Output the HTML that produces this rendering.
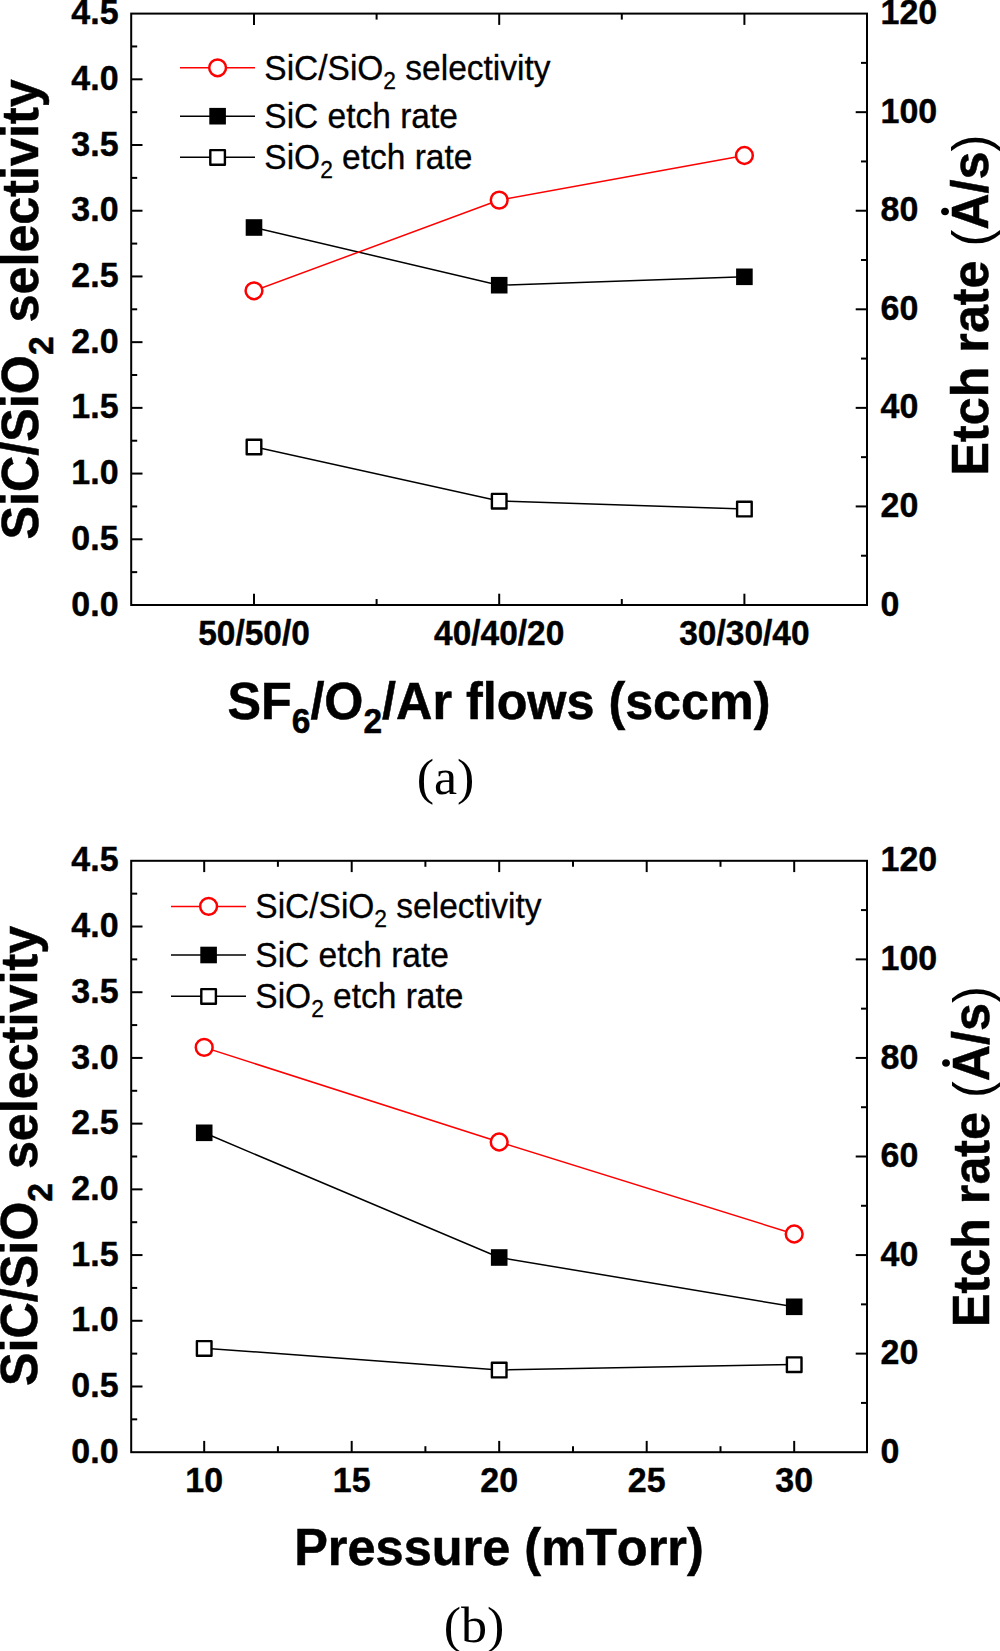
<!DOCTYPE html>
<html><head><meta charset="utf-8"><title>Figure</title>
<style>
html,body{margin:0;padding:0;background:#fff}
svg{display:block}
text{font-family:"Liberation Sans",sans-serif;fill:#000;font-kerning:none}
.tl{font-size:34px;font-weight:bold;stroke:#000;stroke-width:0.4px}
.lg{font-size:33.5px;stroke:#000;stroke-width:0.3px}
.sub{font-size:22.8px}
.al{font-size:50.3px;font-weight:bold;stroke:#000;stroke-width:0.5px}
.asub{font-size:33.5px}
.rg{font-weight:normal;stroke:none}
.dot{font-family:"Liberation Serif",serif;stroke:none}
.cap{font-family:"Liberation Serif",serif;font-size:52px}
</style></head><body>
<svg width="1000" height="1651" viewBox="0 0 1000 1651">
<rect width="1000" height="1651" fill="#fff"/>
<g stroke="#000" stroke-width="2" fill="none">
<rect x="131.2" y="13.6" width="735.8" height="591.4"/>
<rect x="131.2" y="860.8" width="735.8" height="591.4"/>
<line x1="131.2" y1="572.14" x2="137.2" y2="572.14"/>
<line x1="131.2" y1="539.29" x2="142.5" y2="539.29"/>
<line x1="131.2" y1="506.43" x2="137.2" y2="506.43"/>
<line x1="131.2" y1="473.58" x2="142.5" y2="473.58"/>
<line x1="131.2" y1="440.72" x2="137.2" y2="440.72"/>
<line x1="131.2" y1="407.87" x2="142.5" y2="407.87"/>
<line x1="131.2" y1="375.01" x2="137.2" y2="375.01"/>
<line x1="131.2" y1="342.16" x2="142.5" y2="342.16"/>
<line x1="131.2" y1="309.30" x2="137.2" y2="309.30"/>
<line x1="131.2" y1="276.44" x2="142.5" y2="276.44"/>
<line x1="131.2" y1="243.59" x2="137.2" y2="243.59"/>
<line x1="131.2" y1="210.73" x2="142.5" y2="210.73"/>
<line x1="131.2" y1="177.88" x2="137.2" y2="177.88"/>
<line x1="131.2" y1="145.02" x2="142.5" y2="145.02"/>
<line x1="131.2" y1="112.17" x2="137.2" y2="112.17"/>
<line x1="131.2" y1="79.31" x2="142.5" y2="79.31"/>
<line x1="131.2" y1="46.46" x2="137.2" y2="46.46"/>
<line x1="867.0" y1="555.72" x2="861.0" y2="555.72"/>
<line x1="867.0" y1="506.43" x2="855.7" y2="506.43"/>
<line x1="867.0" y1="457.15" x2="861.0" y2="457.15"/>
<line x1="867.0" y1="407.87" x2="855.7" y2="407.87"/>
<line x1="867.0" y1="358.58" x2="861.0" y2="358.58"/>
<line x1="867.0" y1="309.30" x2="855.7" y2="309.30"/>
<line x1="867.0" y1="260.02" x2="861.0" y2="260.02"/>
<line x1="867.0" y1="210.73" x2="855.7" y2="210.73"/>
<line x1="867.0" y1="161.45" x2="861.0" y2="161.45"/>
<line x1="867.0" y1="112.17" x2="855.7" y2="112.17"/>
<line x1="867.0" y1="62.88" x2="861.0" y2="62.88"/>
<line x1="131.2" y1="1419.34" x2="137.2" y2="1419.34"/>
<line x1="131.2" y1="1386.49" x2="142.5" y2="1386.49"/>
<line x1="131.2" y1="1353.63" x2="137.2" y2="1353.63"/>
<line x1="131.2" y1="1320.78" x2="142.5" y2="1320.78"/>
<line x1="131.2" y1="1287.92" x2="137.2" y2="1287.92"/>
<line x1="131.2" y1="1255.07" x2="142.5" y2="1255.07"/>
<line x1="131.2" y1="1222.21" x2="137.2" y2="1222.21"/>
<line x1="131.2" y1="1189.36" x2="142.5" y2="1189.36"/>
<line x1="131.2" y1="1156.50" x2="137.2" y2="1156.50"/>
<line x1="131.2" y1="1123.64" x2="142.5" y2="1123.64"/>
<line x1="131.2" y1="1090.79" x2="137.2" y2="1090.79"/>
<line x1="131.2" y1="1057.93" x2="142.5" y2="1057.93"/>
<line x1="131.2" y1="1025.08" x2="137.2" y2="1025.08"/>
<line x1="131.2" y1="992.22" x2="142.5" y2="992.22"/>
<line x1="131.2" y1="959.37" x2="137.2" y2="959.37"/>
<line x1="131.2" y1="926.51" x2="142.5" y2="926.51"/>
<line x1="131.2" y1="893.66" x2="137.2" y2="893.66"/>
<line x1="867.0" y1="1402.92" x2="861.0" y2="1402.92"/>
<line x1="867.0" y1="1353.63" x2="855.7" y2="1353.63"/>
<line x1="867.0" y1="1304.35" x2="861.0" y2="1304.35"/>
<line x1="867.0" y1="1255.07" x2="855.7" y2="1255.07"/>
<line x1="867.0" y1="1205.78" x2="861.0" y2="1205.78"/>
<line x1="867.0" y1="1156.50" x2="855.7" y2="1156.50"/>
<line x1="867.0" y1="1107.22" x2="861.0" y2="1107.22"/>
<line x1="867.0" y1="1057.93" x2="855.7" y2="1057.93"/>
<line x1="867.0" y1="1008.65" x2="861.0" y2="1008.65"/>
<line x1="867.0" y1="959.37" x2="855.7" y2="959.37"/>
<line x1="867.0" y1="910.08" x2="861.0" y2="910.08"/>
<line x1="254.0" y1="605.0" x2="254.0" y2="593.7"/>
<line x1="254.0" y1="13.6" x2="254.0" y2="24.9"/>
<line x1="499.2" y1="605.0" x2="499.2" y2="593.7"/>
<line x1="499.2" y1="13.6" x2="499.2" y2="24.9"/>
<line x1="744.4" y1="605.0" x2="744.4" y2="593.7"/>
<line x1="744.4" y1="13.6" x2="744.4" y2="24.9"/>
<line x1="376.6" y1="605.0" x2="376.6" y2="599.0"/>
<line x1="376.6" y1="13.6" x2="376.6" y2="19.6"/>
<line x1="621.8" y1="605.0" x2="621.8" y2="599.0"/>
<line x1="621.8" y1="13.6" x2="621.8" y2="19.6"/>
<line x1="204.2" y1="1452.2" x2="204.2" y2="1440.9"/>
<line x1="204.2" y1="860.8" x2="204.2" y2="872.0999999999999"/>
<line x1="277.9" y1="1452.2" x2="277.9" y2="1446.2"/>
<line x1="277.9" y1="860.8" x2="277.9" y2="866.8"/>
<line x1="351.7" y1="1452.2" x2="351.7" y2="1440.9"/>
<line x1="351.7" y1="860.8" x2="351.7" y2="872.0999999999999"/>
<line x1="425.4" y1="1452.2" x2="425.4" y2="1446.2"/>
<line x1="425.4" y1="860.8" x2="425.4" y2="866.8"/>
<line x1="499.2" y1="1452.2" x2="499.2" y2="1440.9"/>
<line x1="499.2" y1="860.8" x2="499.2" y2="872.0999999999999"/>
<line x1="573.0" y1="1452.2" x2="573.0" y2="1446.2"/>
<line x1="573.0" y1="860.8" x2="573.0" y2="866.8"/>
<line x1="646.7" y1="1452.2" x2="646.7" y2="1440.9"/>
<line x1="646.7" y1="860.8" x2="646.7" y2="872.0999999999999"/>
<line x1="720.5" y1="1452.2" x2="720.5" y2="1446.2"/>
<line x1="720.5" y1="860.8" x2="720.5" y2="866.8"/>
<line x1="794.2" y1="1452.2" x2="794.2" y2="1440.9"/>
<line x1="794.2" y1="860.8" x2="794.2" y2="872.0999999999999"/>
</g>
<text class="tl" text-anchor="end" transform="translate(118.6,615.60) scale(1,1.04)">0.0</text>
<text class="tl" text-anchor="end" transform="translate(118.6,549.89) scale(1,1.04)">0.5</text>
<text class="tl" text-anchor="end" transform="translate(118.6,484.18) scale(1,1.04)">1.0</text>
<text class="tl" text-anchor="end" transform="translate(118.6,418.47) scale(1,1.04)">1.5</text>
<text class="tl" text-anchor="end" transform="translate(118.6,352.76) scale(1,1.04)">2.0</text>
<text class="tl" text-anchor="end" transform="translate(118.6,287.04) scale(1,1.04)">2.5</text>
<text class="tl" text-anchor="end" transform="translate(118.6,221.33) scale(1,1.04)">3.0</text>
<text class="tl" text-anchor="end" transform="translate(118.6,155.62) scale(1,1.04)">3.5</text>
<text class="tl" text-anchor="end" transform="translate(118.6,89.91) scale(1,1.04)">4.0</text>
<text class="tl" text-anchor="end" transform="translate(118.6,24.20) scale(1,1.04)">4.5</text>
<text class="tl" transform="translate(880.5,615.60) scale(1,1.04)">0</text>
<text class="tl" transform="translate(880.5,517.03) scale(1,1.04)">20</text>
<text class="tl" transform="translate(880.5,418.47) scale(1,1.04)">40</text>
<text class="tl" transform="translate(880.5,319.90) scale(1,1.04)">60</text>
<text class="tl" transform="translate(880.5,221.33) scale(1,1.04)">80</text>
<text class="tl" transform="translate(880.5,122.77) scale(1,1.04)">100</text>
<text class="tl" transform="translate(880.5,24.20) scale(1,1.04)">120</text>
<text class="tl" text-anchor="end" transform="translate(118.6,1462.80) scale(1,1.04)">0.0</text>
<text class="tl" text-anchor="end" transform="translate(118.6,1397.09) scale(1,1.04)">0.5</text>
<text class="tl" text-anchor="end" transform="translate(118.6,1331.38) scale(1,1.04)">1.0</text>
<text class="tl" text-anchor="end" transform="translate(118.6,1265.67) scale(1,1.04)">1.5</text>
<text class="tl" text-anchor="end" transform="translate(118.6,1199.96) scale(1,1.04)">2.0</text>
<text class="tl" text-anchor="end" transform="translate(118.6,1134.24) scale(1,1.04)">2.5</text>
<text class="tl" text-anchor="end" transform="translate(118.6,1068.53) scale(1,1.04)">3.0</text>
<text class="tl" text-anchor="end" transform="translate(118.6,1002.82) scale(1,1.04)">3.5</text>
<text class="tl" text-anchor="end" transform="translate(118.6,937.11) scale(1,1.04)">4.0</text>
<text class="tl" text-anchor="end" transform="translate(118.6,871.40) scale(1,1.04)">4.5</text>
<text class="tl" transform="translate(880.5,1462.80) scale(1,1.04)">0</text>
<text class="tl" transform="translate(880.5,1364.23) scale(1,1.04)">20</text>
<text class="tl" transform="translate(880.5,1265.67) scale(1,1.04)">40</text>
<text class="tl" transform="translate(880.5,1167.10) scale(1,1.04)">60</text>
<text class="tl" transform="translate(880.5,1068.53) scale(1,1.04)">80</text>
<text class="tl" transform="translate(880.5,969.97) scale(1,1.04)">100</text>
<text class="tl" transform="translate(880.5,871.40) scale(1,1.04)">120</text>
<text class="tl" style="font-size:33.5px" text-anchor="middle" transform="translate(254.0,644.6) scale(1,1.04)">50/50/0</text>
<text class="tl" style="font-size:33.5px" text-anchor="middle" transform="translate(499.2,644.6) scale(1,1.04)">40/40/20</text>
<text class="tl" style="font-size:33.5px" text-anchor="middle" transform="translate(744.4,644.6) scale(1,1.04)">30/30/40</text>
<text class="tl" text-anchor="middle" transform="translate(204.2,1491.8) scale(1,1.04)">10</text>
<text class="tl" text-anchor="middle" transform="translate(351.7,1491.8) scale(1,1.04)">15</text>
<text class="tl" text-anchor="middle" transform="translate(499.2,1491.8) scale(1,1.04)">20</text>
<text class="tl" text-anchor="middle" transform="translate(646.7,1491.8) scale(1,1.04)">25</text>
<text class="tl" text-anchor="middle" transform="translate(794.2,1491.8) scale(1,1.04)">30</text>
<polyline points="254.0,446.8 499.2,501.0 744.4,508.9" fill="none" stroke="#000" stroke-width="1.5"/>
<rect x="246.7" y="439.7" width="14.6" height="14.6" fill="#fff" stroke="#000" stroke-width="2.4" stroke-linejoin="round"/>
<rect x="491.9" y="493.9" width="14.6" height="14.6" fill="#fff" stroke="#000" stroke-width="2.4" stroke-linejoin="round"/>
<rect x="737.1" y="501.8" width="14.6" height="14.6" fill="#fff" stroke="#000" stroke-width="2.4" stroke-linejoin="round"/>
<polyline points="254.0,227.5 499.2,285.2 744.4,276.8" fill="none" stroke="#000" stroke-width="1.5"/>
<rect x="245.7" y="219.2" width="16.6" height="16.6" fill="#000"/>
<rect x="490.9" y="276.9" width="16.6" height="16.6" fill="#000"/>
<rect x="736.1" y="268.5" width="16.6" height="16.6" fill="#000"/>
<polyline points="254.0,290.8 499.2,200.1 744.4,155.5" fill="none" stroke="#f00" stroke-width="1.5"/>
<circle cx="254.0" cy="290.8" r="8.4" fill="#fff" stroke="#f00" stroke-width="2.5"/>
<circle cx="499.2" cy="200.1" r="8.4" fill="#fff" stroke="#f00" stroke-width="2.5"/>
<circle cx="744.4" cy="155.5" r="8.4" fill="#fff" stroke="#f00" stroke-width="2.5"/>
<polyline points="204.2,1348.2 499.2,1369.9 794.2,1364.5" fill="none" stroke="#000" stroke-width="1.5"/>
<rect x="196.9" y="1341.1" width="14.6" height="14.6" fill="#fff" stroke="#000" stroke-width="2.4" stroke-linejoin="round"/>
<rect x="491.9" y="1362.8" width="14.6" height="14.6" fill="#fff" stroke="#000" stroke-width="2.4" stroke-linejoin="round"/>
<rect x="786.9" y="1357.4" width="14.6" height="14.6" fill="#fff" stroke="#000" stroke-width="2.4" stroke-linejoin="round"/>
<polyline points="204.2,1132.8 499.2,1257.5 794.2,1306.8" fill="none" stroke="#000" stroke-width="1.5"/>
<rect x="195.9" y="1124.5" width="16.6" height="16.6" fill="#000"/>
<rect x="490.9" y="1249.2" width="16.6" height="16.6" fill="#000"/>
<rect x="785.9" y="1298.5" width="16.6" height="16.6" fill="#000"/>
<polyline points="204.2,1047.4 499.2,1142.0 794.2,1234.0" fill="none" stroke="#f00" stroke-width="1.5"/>
<circle cx="204.2" cy="1047.4" r="8.4" fill="#fff" stroke="#f00" stroke-width="2.5"/>
<circle cx="499.2" cy="1142.0" r="8.4" fill="#fff" stroke="#f00" stroke-width="2.5"/>
<circle cx="794.2" cy="1234.0" r="8.4" fill="#fff" stroke="#f00" stroke-width="2.5"/>
<line x1="180" y1="67.8" x2="255" y2="67.8" stroke="#f00" stroke-width="1.5"/>
<circle cx="217.6" cy="67.8" r="8.4" fill="#fff" stroke="#f00" stroke-width="2.5"/>
<text class="lg" transform="translate(264.3,79.5) scale(1,1.04)">SiC/SiO<tspan class="sub" dy="8.85">2</tspan><tspan dy="-8.85"> selectivity</tspan></text>
<line x1="180" y1="116.2" x2="255" y2="116.2" stroke="#000" stroke-width="1.5"/>
<rect x="209.3" y="107.9" width="16.6" height="16.6" fill="#000"/>
<text class="lg" transform="translate(264.3,127.9) scale(1,1.04)">SiC etch rate</text>
<line x1="180" y1="157.2" x2="255" y2="157.2" stroke="#000" stroke-width="1.5"/>
<rect x="210.3" y="150.1" width="14.6" height="14.6" fill="#fff" stroke="#000" stroke-width="2.4" stroke-linejoin="round"/>
<text class="lg" transform="translate(264.3,168.9) scale(1,1.04)">SiO<tspan class="sub" dy="8.85">2</tspan><tspan dy="-8.85"> etch rate</tspan></text>
<line x1="171" y1="906.4" x2="246" y2="906.4" stroke="#f00" stroke-width="1.5"/>
<circle cx="208.6" cy="906.4" r="8.4" fill="#fff" stroke="#f00" stroke-width="2.5"/>
<text class="lg" transform="translate(255.3,918.1) scale(1,1.04)">SiC/SiO<tspan class="sub" dy="8.85">2</tspan><tspan dy="-8.85"> selectivity</tspan></text>
<line x1="171" y1="955" x2="246" y2="955" stroke="#000" stroke-width="1.5"/>
<rect x="200.3" y="946.7" width="16.6" height="16.6" fill="#000"/>
<text class="lg" transform="translate(255.3,966.7) scale(1,1.04)">SiC etch rate</text>
<line x1="171" y1="996.2" x2="246" y2="996.2" stroke="#000" stroke-width="1.5"/>
<rect x="201.3" y="989.1" width="14.6" height="14.6" fill="#fff" stroke="#000" stroke-width="2.4" stroke-linejoin="round"/>
<text class="lg" transform="translate(255.3,1007.9) scale(1,1.04)">SiO<tspan class="sub" dy="8.85">2</tspan><tspan dy="-8.85"> etch rate</tspan></text>
<text class="al" transform="translate(38,539.5) rotate(-90) scale(1,1.04)">SiC/SiO<tspan class="asub" dy="13.94">2</tspan><tspan dy="-13.94"> selectivity</tspan></text>
<text class="al" transform="translate(988.2,475.6) rotate(-90) scale(1,1.04)">Etch rate <tspan class="rg" dy="0.96">(</tspan><tspan dy="-0.96">A</tspan><tspan class="dot" dx="-18.2" dy="-9.52">̇</tspan><tspan dx="18.2" dy="9.52">/s</tspan><tspan class="rg" dy="0.96">)</tspan></text>
<text class="al" transform="translate(37.2,1386.1) rotate(-90) scale(1,1.04)">SiC/SiO<tspan class="asub" dy="13.94">2</tspan><tspan dy="-13.94"> selectivity</tspan></text>
<text class="al" transform="translate(989.3,1327.1) rotate(-90) scale(1,1.04)">Etch rate <tspan class="rg" dy="0.96">(</tspan><tspan dy="-0.96">A</tspan><tspan class="dot" dx="-18.2" dy="-9.52">̇</tspan><tspan dx="18.2" dy="9.52">/s</tspan><tspan class="rg" dy="0.96">)</tspan></text>
<text class="al" transform="translate(227.5,718.5) scale(1,1.04)">SF<tspan class="asub" dy="13.94">6</tspan><tspan dy="-13.94">/O</tspan><tspan class="asub" dy="13.94">2</tspan><tspan dy="-13.94">/Ar flows (sccm)</tspan></text>
<text class="al" style="font-size:50.5px" transform="translate(294.2,1565) scale(1,1.04)">Pressure (mTorr)</text>
<text class="cap" text-anchor="middle" transform="translate(445.5,793.5) scale(1,0.96)">(a)</text>
<text class="cap" text-anchor="middle" transform="translate(474,1641.5) scale(1,0.96)">(b)</text>
</svg>
</body></html>
